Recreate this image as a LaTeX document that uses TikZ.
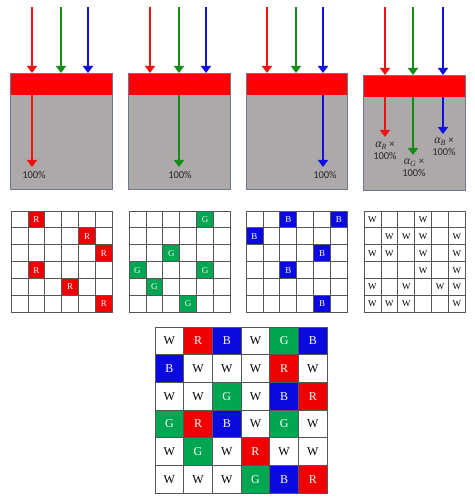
\documentclass[tikz,border=0pt]{standalone}
\usepackage{fontspec}
\setmainfont{Liberation Serif}
\newfontfamily\carl{Carlito}
\usetikzlibrary{arrows.meta}
\definecolor{aR}{HTML}{F21212}
\definecolor{aG}{HTML}{168C16}
\definecolor{aB}{HTML}{1010E0}
\definecolor{band}{HTML}{FF0000}
\definecolor{body}{HTML}{ADA9A9}
\definecolor{edge}{HTML}{6E7891}
\definecolor{cR}{HTML}{F00000}
\definecolor{cG}{HTML}{00A651}
\definecolor{cB}{HTML}{0A0AE0}
\definecolor{gline}{HTML}{555555}
\definecolor{ptxt}{HTML}{262626}
\newcommand\alf[1]{{\rmfamily\itshape\fontsize{12}{12}\selectfont α\textsubscript{#1}}}
\newcommand\drawgrid[7]{%
  \foreach \row [count=\r from 0] in {#7} {
    \foreach \k [count=\c from 0] in \row {
      \node (#1-\r-\c) at ({#2+(\c+0.5)*#4},{#3+(\r+0.5)*#5})
        [cell, minimum width=#4, minimum height=#5, #6, k\k];
    }
  }}
\begin{document}
\begin{tikzpicture}[x=1pt,y=-1pt,
  arr/.style={line width=1.6pt, -{Triangle[width=10pt,length=7pt]}},
  bodybox/.style={draw=edge, line width=0.8pt, fill=body, inner sep=0, outer sep=0},
  bandbox/.style={fill=band, inner sep=0, outer sep=0},
  ptext/.style={text=ptxt, font=\carl\fontsize{10.5}{12}\selectfont, align=center, inner sep=0},
  cell/.style={draw=gline, line width=0.8pt, fill=white, inner sep=0, outer sep=0},
  k0/.style={node contents={}},
  kR/.style={fill=cR, text=white, node contents={R}},
  kG/.style={fill=cG, text=white, node contents={G}},
  kB/.style={fill=cB, text=white, node contents={B}},
  kW/.style={text=black, node contents={W}},
  small/.style={font=\fontsize{9}{10}\selectfont},
  big/.style={font=\fontsize{12}{14}\selectfont}
]
\useasboundingbox (0,0) rectangle (474,502);

% ---- panels ----
\foreach \n/\xa/\xb/\ya/\yb/\yc in {1/10/112/73/95/189, 2/128/230/73/95/189, 3/246/347/73/95/189, 4/363/465/75/97/190} {
  \path[bodybox] (\xa,\ya) rectangle (\xb,\yc);
  \node[bandbox, minimum width={\xb-\xa}, minimum height={\yb-\ya}] (band\n) at ({(\xa+\xb)/2},{(\ya+\yb)/2}) {};
  \draw[edge, line width=0.8pt] (\xa,\ya) rectangle (\xb,\yc);
}

% incoming arrows
\foreach \n/\xr/\xg/\xbl in {1/32/61/88, 2/150/179/206, 3/267/296/323, 4/385/413/443} {
  \coordinate (s\n r) at (\xr,7);
  \coordinate (s\n g) at (\xg,7);
  \coordinate (s\n b) at (\xbl,7);
  \draw[arr, aR] (s\n r) -- (s\n r |- band\n.north);
  \draw[arr, aG] (s\n g) -- (s\n g |- band\n.north);
  \draw[arr, aB] (s\n b) -- (s\n b |- band\n.north);
}

% transmitted arrows and labels
\node[ptext] (t1) at (34,175) {100\%};
\node[ptext] (t2) at (180,175) {100\%};
\node[ptext] (t3) at (325,175) {100\%};
\coordinate (e1) at (32,167);
\coordinate (e2) at (179,167);
\coordinate (e3) at (323,167);
\draw[arr, aR] (s1r |- band1.south) -- (e1);
\draw[arr, aG] (s2g |- band2.south) -- (e2);
\draw[arr, aB] (s3b |- band3.south) -- (e3);

\coordinate (e4r) at (385,137);
\coordinate (e4g) at (413,155);
\coordinate (e4b) at (443,134);
\draw[arr, aR] (s4r |- band4.south) -- (e4r);
\draw[arr, aG] (s4g |- band4.south) -- (e4g);
\draw[arr, aB] (s4b |- band4.south) -- (e4b);
\node[ptext] (t4r) at (385,151) {\alf{R} ×\\100\%};
\node[ptext] (t4g) at (414,168) {\alf{G} ×\\100\%};
\node[ptext] (t4b) at (444,147) {\alf{B} ×\\100\%};

% ---- grids ----
\drawgrid{ga}{11}{211}{16.9}{16.9}{small}{
  {0,R,0,0,0,0},{0,0,0,0,R,0},{0,0,0,0,0,R},{0,R,0,0,0,0},{0,0,0,R,0,0},{0,0,0,0,0,R}}
\drawgrid{gb}{129}{211}{16.9}{16.9}{small}{
  {0,0,0,0,G,0},{0,0,0,0,0,0},{0,0,G,0,0,0},{G,0,0,0,G,0},{0,G,0,0,0,0},{0,0,0,G,0,0}}
\drawgrid{gc}{246}{211}{16.9}{16.9}{small}{
  {0,0,B,0,0,B},{B,0,0,0,0,0},{0,0,0,0,B,0},{0,0,B,0,0,0},{0,0,0,0,0,0},{0,0,0,0,B,0}}
\drawgrid{gd}{364}{211}{16.9}{16.9}{small}{
  {W,0,0,W,0,0},{0,W,W,W,0,W},{W,W,0,W,0,W},{0,0,0,W,0,W},{W,0,W,0,W,W},{W,W,W,0,0,W}}
\drawgrid{ge}{155}{327}{28.7}{27.7}{big}{
  {W,R,B,W,G,B},{B,W,W,W,R,W},{W,W,G,W,B,R},{G,R,B,W,G,W},{W,G,W,R,W,W},{W,W,W,G,B,R}}
\end{tikzpicture}
\end{document}
